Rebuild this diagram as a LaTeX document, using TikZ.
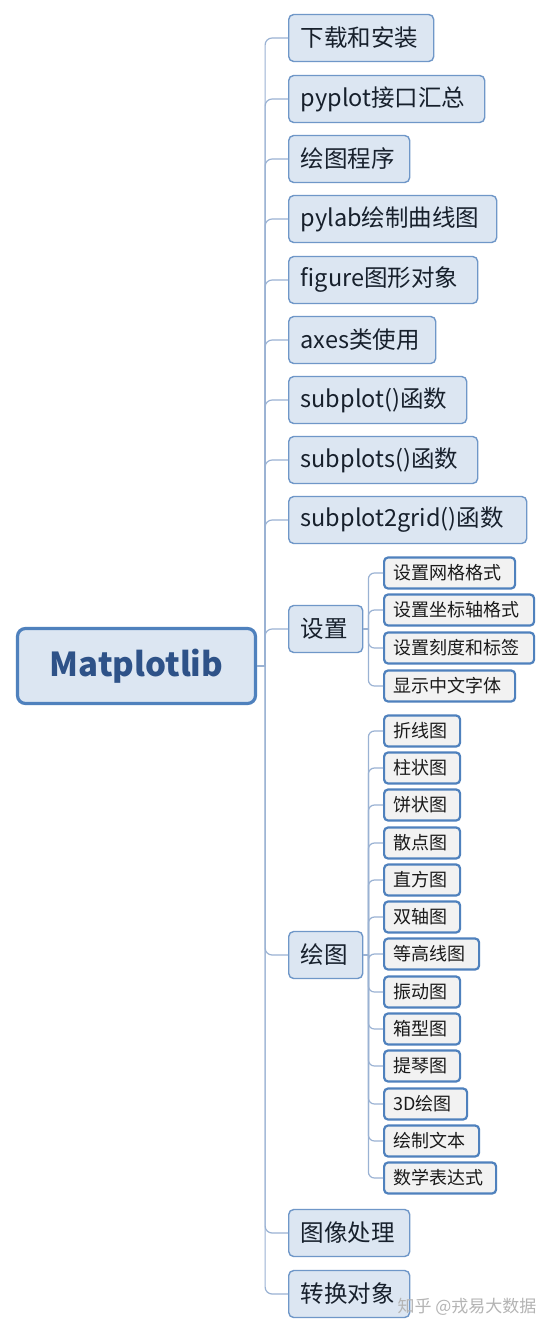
\documentclass[tikz,border=0pt]{standalone}
\usepackage{fontspec}
\setmainfont{Noto Sans CJK SC}
\begin{document}
\begin{tikzpicture}[x=1pt,y=-1pt,
  conn/.style={draw=connc, line width=1.2pt},
  rootbox/.style={draw=bordc, line width=3.2pt, fill=fillc, rounded corners=8pt,
     minimum width=238pt, minimum height=75pt, inner sep=0pt,
     font=\fontsize{33}{33}\selectfont\bfseries, text=rootc},
  lone/.style={draw=lonec, line width=1.4pt, fill=fillc, rounded corners=5pt,
     minimum height=47pt, inner ysep=0pt, inner xsep=12pt, anchor=west,
     font=\fontsize{23.5}{24}\selectfont, text=textc, text width=#1-24pt, align=left},
  ltwo/.style={draw=bordc, line width=2.2pt, fill=fill2c, rounded corners=4pt,
     minimum height=31pt, inner ysep=0pt, inner xsep=9pt, anchor=west,
     font=\fontsize{18}{18}\selectfont, text=text2c, text width=#1-18pt, align=left},
  wm/.style={font=\fontsize{17}{17}\selectfont, text=wmc}
]
\definecolor{connc}{HTML}{9AB2D3}
\definecolor{bordc}{HTML}{4F81BD}
\definecolor{lonec}{HTML}{6F97C8}
\definecolor{fillc}{HTML}{DCE6F2}
\definecolor{fill2c}{HTML}{F2F2F2}
\definecolor{rootc}{HTML}{2E5288}
\definecolor{textc}{HTML}{17202C}
\definecolor{text2c}{HTML}{1A1A1A}
\definecolor{wmc}{HTML}{B4B4B4}
\useasboundingbox[fill=white] (0,0) rectangle (548,1332);

% root
\node[rootbox] (root) at (136.5,666) {Matplotlib};

% level one
\node[lone=145pt] (a1) at (288,38) {下载和安装};
\node[lone=196pt] (a2) at (288,99) {pyplot接口汇总};
\node[lone=121pt] (a3) at (288,159) {绘图程序};
\node[lone=208pt] (a4) at (288,219) {pylab绘制曲线图};
\node[lone=189pt] (a5) at (288,280) {figure图形对象};
\node[lone=147pt] (a6) at (288,340) {axes类使用};
\node[lone=178pt] (a7) at (288,400) {subplot()函数};
\node[lone=189pt] (a8) at (288,460) {subplots()函数};
\node[lone=238pt] (a9) at (288,520) {subplot2grid()函数};
\node[lone=74pt] (a10) at (288,629) {设置};
\node[lone=74pt] (a11) at (288,955) {绘图};
\node[lone=121pt] (a12) at (288,1233) {图像处理};
\node[lone=121pt] (a13) at (288,1294) {转换对象};

% level two under 设置
\node[ltwo=131pt] (b1) at (383,573) {设置网格格式};
\node[ltwo=150pt] (b2) at (383,610) {设置坐标轴格式};
\node[ltwo=150pt] (b3) at (383,648) {设置刻度和标签};
\node[ltwo=131pt] (b4) at (383,686) {显示中文字体};

% level two under 绘图
\node[ltwo=76pt] (c1) at (383,731) {折线图};
\node[ltwo=76pt] (c2) at (383,768) {柱状图};
\node[ltwo=76pt] (c3) at (383,805) {饼状图};
\node[ltwo=76pt] (c4) at (383,843) {散点图};
\node[ltwo=76pt] (c5) at (383,880) {直方图};
\node[ltwo=76pt] (c6) at (383,917) {双轴图};
\node[ltwo=95pt] (c7) at (383,954) {等高线图};
\node[ltwo=76pt] (c8) at (383,992) {振动图};
\node[ltwo=76pt] (c9) at (383,1029) {箱型图};
\node[ltwo=76pt] (c10) at (383,1066) {提琴图};
\node[ltwo=83pt] (c11) at (383,1104) {3D绘图};
\node[ltwo=95pt] (c12) at (383,1141) {绘制文本};
\node[ltwo=112pt] (c13) at (383,1178) {数学表达式};

% connectors
\coordinate (sp) at ([xshift=8pt]root.east);
\draw[conn] (root.east) -- (sp);
\foreach \n in {a1,a2,a3,a4,a5,a6,a7,a8,a9,a10,a11,a12,a13}
  \draw[conn, rounded corners=7pt] (sp) |- (\n.west);

\coordinate (sb) at ([xshift=5pt]a10.east);
\draw[conn] (a10.east) -- (sb);
\foreach \n in {b1,b2,b3,b4}
  \draw[conn, rounded corners=6pt] (sb) |- (\n.west);

\coordinate (sc) at ([xshift=5pt]a11.east);
\draw[conn] (a11.east) -- (sc);
\foreach \n in {c1,c2,c3,c4,c5,c6,c7,c8,c9,c10,c11,c12,c13}
  \draw[conn, rounded corners=6pt] (sc) |- (\n.west);

% watermark
\node[wm] (wmark) at (467,1307) {知乎 @戎易大数据};
\end{tikzpicture}
\end{document}
